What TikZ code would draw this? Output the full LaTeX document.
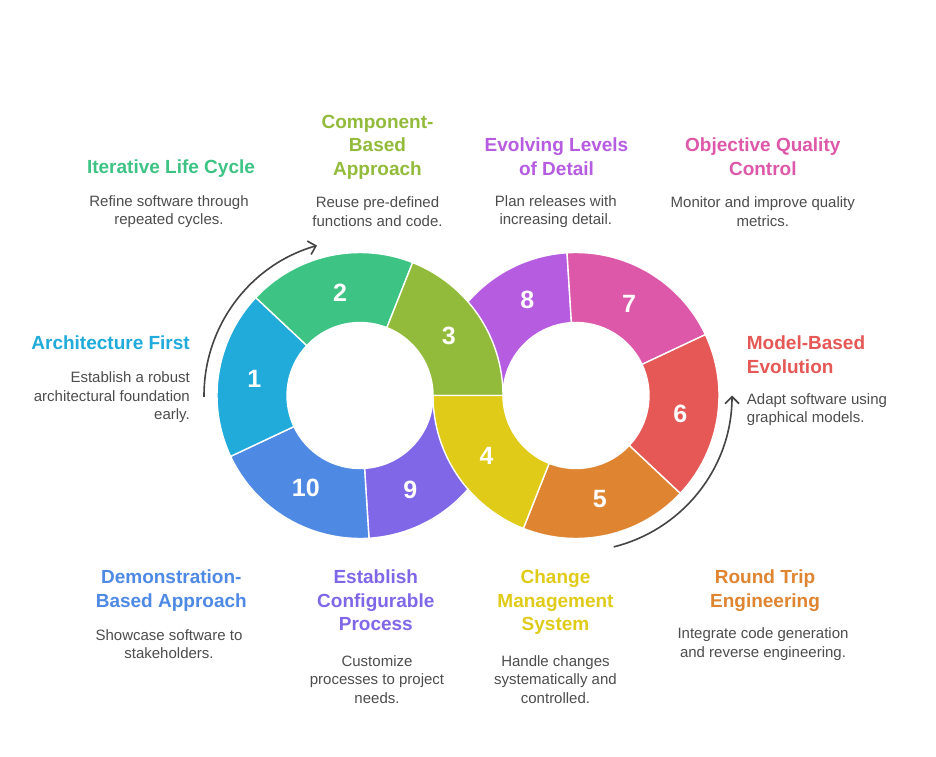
\documentclass[tikz,border=0pt]{standalone}
\usepackage{fontspec}
\setmainfont{Liberation Sans}
\usetikzlibrary{arrows.meta}
\definecolor{c1}{HTML}{20ABDA}
\definecolor{c2}{HTML}{3DC484}
\definecolor{c3}{HTML}{93BB3B}
\definecolor{c4}{HTML}{DFCB18}
\definecolor{c5}{HTML}{DF8430}
\definecolor{c6}{HTML}{E55855}
\definecolor{c7}{HTML}{DD58A8}
\definecolor{c8}{HTML}{B65CE1}
\definecolor{c9}{HTML}{7F67E8}
\definecolor{c10}{HTML}{4E89E4}
\definecolor{txt}{HTML}{4D4D4D}
\definecolor{arr}{HTML}{444444}
\newcommand\ringseg[5]{%
  \filldraw[fill=#5, draw=white, line width=1.4pt, line join=round, shift={(#1,#2)}]
    (#3:143) arc[start angle=#3, end angle=#4, radius=143] -- (#4:73)
    arc[start angle=#4, end angle=#3, radius=73] -- cycle;}
\begin{document}
\begin{tikzpicture}[x=1pt,y=1pt,
  title/.style={font=\fontsize{19}{23.5}\selectfont\bfseries, align=center, inner sep=0pt},
  desc/.style={font=\fontsize{15}{18.3}\selectfont, text=txt, align=center, inner sep=0pt},
  num/.style={font=\fontsize{25}{25}\selectfont\bfseries, text=white, inner sep=0pt},
  flow/.style={draw=arr, line width=1.6pt, -{Straight Barb[length=7pt,width=14pt]}}]
\useasboundingbox (0,0) rectangle (936,756);
\fill[white] (0,0) rectangle (936,756);
\coordinate (L) at (360,360.5);
\coordinate (R) at (576,360.5);
% ring segments (draw order for overlaps)
\ringseg{576}{360.5}{93.6}{180}{c8}
\ringseg{360}{360.5}{273.6}{360}{c9}
\ringseg{360}{360.5}{205.2}{273.6}{c10}
\ringseg{360}{360.5}{136.8}{205.2}{c1}
\ringseg{360}{360.5}{68.4}{136.8}{c2}
\ringseg{576}{360.5}{25.2}{93.6}{c7}
\ringseg{576}{360.5}{-43.2}{25.2}{c6}
\ringseg{576}{360.5}{248.4}{316.8}{c5}
\ringseg{360}{360.5}{0}{68.4}{c3}
\ringseg{576}{360.5}{180}{248.4}{c4}
% numbers
\node[num] (n1) at ([shift={(171:107)}]L) {1};
\node[num] (n2) at ([shift={(101:105)}]L) {2};
\node[num] (n3) at ([shift={(34:107)}]L) {3};
\node[num] (n9) at ([shift={(298:107)}]L) {9};
\node[num] (n10) at ([shift={(239.6:107)}]L) {10};
\node[num] (n4) at ([shift={(214:108)}]R) {4};
\node[num] (n5) at ([shift={(283:106)}]R) {5};
\node[num] (n6) at ([shift={(350:106)}]R) {6};
\node[num] (n7) at ([shift={(60:106)}]R) {7};
\node[num] (n8) at ([shift={(117:107)}]R) {8};
% flow arrows
\draw[flow] ([shift={(180.5:156)}]L) arc[start angle=180.5, end angle=106, radius=156];
\draw[flow] ([shift={(-76:156)}]R) arc[start angle=-76, end angle=0, radius=156];
% titles
\node[title, text=c2] (t2) at (171,587) {Iterative Life Cycle};
\node[title, text=c3] (t3) at (377.5,609) {Component-\\Based\\Approach};
\node[title, text=c8] (t8) at (556.5,599.5) {Evolving Levels\\of Detail};
\node[title, text=c7] (t7) at (762.8,599.5) {Objective Quality\\Control};
\node[title, text=c1, anchor=east, align=right] (t1) at (190,413.5) {Architecture First};
\node[title, text=c6, anchor=west, align=left] (t6) at (746.7,401.5) {Model-Based\\Evolution};
\node[title, text=c10] (t10) at (171.3,165.5) {Demonstration-\\Based Approach};
\node[title, text=c9] (t9) at (375.8,155.5) {Establish\\Configurable\\Process};
\node[title, text=c4] (t4) at (555.5,153.5) {Change\\Management\\System};
\node[title, text=c5] (t5) at (765,165.5) {Round Trip\\Engineering};
% descriptions
\node[desc] (d2) at (169,544.5) {Refine software through\\repeated cycles.};
\node[desc] (d3) at (377.5,544.5) {Reuse pre-defined\\functions and code.};
\node[desc] (d8) at (555.8,544.5) {Plan releases with\\increasing detail.};
\node[desc] (d7) at (762.8,544.5) {Monitor and improve quality\\metrics.};
\node[desc, anchor=east, align=right] (d1) at (190,358.8) {Establish a robust\\architectural foundation\\early.};
\node[desc, anchor=west, align=left] (d6) at (746.7,346.5) {Adapt software using\\graphical models.};
\node[desc] (d10) at (169,112) {Showcase software to\\stakeholders.};
\node[desc] (d9) at (377,76.5) {Customize\\processes to project\\needs.};
\node[desc] (d4) at (555.5,76.5) {Handle changes\\systematically and\\controlled.};
\node[desc] (d5) at (763,112) {Integrate code generation\\and reverse engineering.};
\end{tikzpicture}
\end{document}
